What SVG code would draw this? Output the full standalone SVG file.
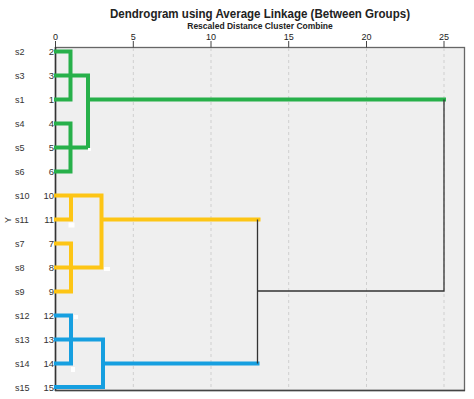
<svg xmlns="http://www.w3.org/2000/svg" width="474" height="399" viewBox="0 0 474 399">
<style>
text{font-family:"Liberation Sans",Arial,sans-serif;fill:#222}
.title{font-size:12.5px;font-weight:bold}
.sub{font-size:8.5px;font-weight:bold}
.tick{font-size:9px;fill:#444}
.lab{font-size:9px;fill:#333}
.num{font-size:9.5px;fill:#333;text-anchor:end}
.grid{stroke:#cfcfcf;stroke-width:1;stroke-dasharray:3,3}
.g{stroke:#27b04a;stroke-width:4;fill:none;stroke-linecap:square}
.y{stroke:#fdc515;stroke-width:4;fill:none;stroke-linecap:square}
.b{stroke:#169fe0;stroke-width:4;fill:none;stroke-linecap:square}
.k{stroke:#333;stroke-width:1.3;fill:none}
.w{fill:#fff}
</style>
<rect width="474" height="399" fill="#fff"/>
<g id="plot">
<rect x="55.5" y="47.5" width="409" height="343" fill="#efefef" stroke="#666" stroke-width="1.3"/>
<line class="grid" x1="133.3" y1="48" x2="133.3" y2="390"/>
<line class="grid" x1="211" y1="48" x2="211" y2="390"/>
<line class="grid" x1="288.7" y1="48" x2="288.7" y2="390"/>
<line class="grid" x1="366.5" y1="48" x2="366.5" y2="390"/>
<line class="grid" x1="444" y1="48" x2="444" y2="390"/>
<g stroke="#444" stroke-width="1">
<line x1="55.5" y1="41" x2="55.5" y2="47.5"/>
<line x1="133.3" y1="41" x2="133.3" y2="47.5"/>
<line x1="211" y1="41" x2="211" y2="47.5"/>
<line x1="288.7" y1="41" x2="288.7" y2="47.5"/>
<line x1="366.5" y1="41" x2="366.5" y2="47.5"/>
<line x1="444" y1="41" x2="444" y2="47.5"/>
</g>
<line x1="55.5" y1="47" x2="55.5" y2="391" stroke="#333" stroke-width="1.5"/>
<line x1="55" y1="390.5" x2="465" y2="390.5" stroke="#444" stroke-width="1.5"/>
</g>
<g id="title">
<text class="title" x="260" y="18" text-anchor="middle" textLength="300" lengthAdjust="spacingAndGlyphs">Dendrogram using Average Linkage (Between Groups)</text>
<text class="sub" x="260" y="29" text-anchor="middle">Rescaled Distance Cluster Combine</text>
</g>
<g id="axis-ticks" class="tick" text-anchor="middle">
<text x="55.5" y="40">0</text>
<text x="133.3" y="40">5</text>
<text x="211" y="40">10</text>
<text x="288.7" y="40">15</text>
<text x="366.5" y="40">20</text>
<text x="444" y="40">25</text>
</g>
<g id="labels">
<text class="lab" x="15" y="55">s2</text><text class="num" x="54" y="55">2</text>
<text class="lab" x="15" y="79">s3</text><text class="num" x="54" y="79">3</text>
<text class="lab" x="15" y="103">s1</text><text class="num" x="54" y="103">1</text>
<text class="lab" x="15" y="127">s4</text><text class="num" x="54" y="127">4</text>
<text class="lab" x="15" y="151">s5</text><text class="num" x="54" y="151">5</text>
<text class="lab" x="15" y="175">s6</text><text class="num" x="54" y="175">6</text>
<text class="lab" x="15" y="199">s10</text><text class="num" x="54" y="199">10</text>
<text class="lab" x="15" y="223">s11</text><text class="num" x="54" y="223">11</text>
<text class="lab" x="15" y="247">s7</text><text class="num" x="54" y="247">7</text>
<text class="lab" x="15" y="271">s8</text><text class="num" x="54" y="271">8</text>
<text class="lab" x="15" y="295">s9</text><text class="num" x="54" y="295">9</text>
<text class="lab" x="15" y="319">s12</text><text class="num" x="54" y="319">12</text>
<text class="lab" x="15" y="343">s13</text><text class="num" x="54" y="343">13</text>
<text class="lab" x="15" y="367">s14</text><text class="num" x="54" y="367">14</text>
<text class="lab" x="15" y="391">s15</text><text class="num" x="54" y="391">15</text>
<text class="lab" transform="translate(10.5,220) rotate(-90)" text-anchor="middle">Y</text>
</g>
<g id="connectors">
<path class="g" d="M56,51.5H70.5V99.5H56M56,75.5H88V147.5H56M56,123.5H70.5V171.5H56M88,99.5H444"/>
<path class="y" d="M56,195.5H101.5V267.5H56M56,219.5H71V195.5M56,243.5H71V291.5H56M101.5,219.5H258.5"/>
<path class="b" d="M56,315.5H71V363.5H56M56,339.5H103V387H56M103,363.5H257.5"/>
<path class="k" d="M257.5,219.5V363.5M257.5,291H444V99.5"/>
<rect class="w" x="88" y="148" width="3" height="3"/>
<rect class="w" x="68.5" y="222.5" width="6" height="5"/>
<rect class="w" x="104" y="267" width="6" height="4"/>
<rect class="w" x="74" y="315" width="4" height="4"/>
<rect class="w" x="71" y="367" width="4" height="5"/>
</g>
</svg>
